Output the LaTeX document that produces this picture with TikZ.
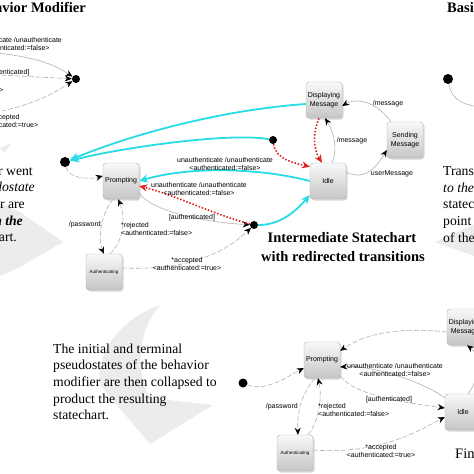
\documentclass[tikz,border=0pt]{standalone}
\usepackage{fontspec}
\setmainfont{Liberation Serif}
\setsansfont{Liberation Sans}
\usetikzlibrary{arrows.meta, shadows, positioning}
\definecolor{cyanline}{RGB}{40,220,230}
\definecolor{redline}{RGB}{225,30,30}

\begin{document}
\begin{tikzpicture}[x=1pt, y=-1pt,
    statebox/.style={draw=gray!60, rounded corners=3pt, minimum width=36pt, minimum height=36pt, inner sep=0pt, align=center, top color=gray!5, bottom color=gray!45, drop shadow={shadow xshift=1.5pt, shadow yshift=-1.5pt, fill=gray!60}, font=\sffamily\fontsize{7}{8.5}\selectfont},
    pseudo/.style={circle, fill=black, inner sep=0pt, minimum size=9pt},
    lbl/.style={font=\sffamily\fontsize{7}{8}\selectfont, inner sep=0pt, align=center},
    trans/.style={draw=gray!60, line width=0.6pt, -{Stealth[length=7pt, width=6pt, color=black]}},
    dtrans/.style={trans, dash pattern=on 5pt off 2pt},
    cyantrans/.style={draw=cyanline, line width=1.8pt, -{Stealth[length=9pt, width=8pt]}},
    redtrans/.style={draw=redline, line width=1.6pt, dash pattern=on 1.5pt off 1.8pt, -{Stealth[length=8pt, width=7pt]}},
    headline/.style={font=\bfseries\fontsize{14.5}{19}\selectfont, inner sep=0pt},
    prose/.style={font=\fontsize{13.7}{16.7}\selectfont, inner sep=0pt},
    bgarrow/.style={fill=gray!15}
]
    \useasboundingbox (0,0) rectangle (474,474);
    \fill[white] (0,0) rectangle (474,474);
    \clip (0,0) rectangle (474,474);

    % Background arrows
    \fill[bgarrow] (-10,200) -- (20,212) -- (63,242) -- (18,268) -- (-10,280) -- cycle;
    \fill[bgarrow] (0,148) -- (12,143) -- (4,153) -- cycle;
    \fill[bgarrow] (160,305) .. controls (118,320) and (95,355) .. (100,385) -- (150,444) -- (213,405) -- (150,398) .. controls (135,370) and (138,330) .. cycle;
    \fill[bgarrow] (435,242) -- (480,222) -- (480,258) -- cycle;

    % Titles
    \node[headline, anchor=base east] (tMod) at (86,12) {Behavior Modifier};
    \node[headline, anchor=base west] (tBasic) at (447,12) {Basic Statechart};
    \node[headline, anchor=base] (tInter1) at (342,242) {Intermediate Statechart};
    \node[headline, anchor=base] (tInter2) at (343,261) {with redirected transitions};
    \node[headline, anchor=base west, font=\fontsize{14.5}{19}\selectfont] (tFinal) at (455,458) {Final Statechart};

    % Texts
    \node[prose, anchor=base east] (left1) at (33,175) {behavior went};
    \node[prose, anchor=base east] (left2) at (35,191.5) {\itshape pseudostate};
    \node[prose, anchor=base east] (left3) at (25,208) {modifier are};
    \node[prose, anchor=base east] (left4) at (23,225) {\bfseries\itshape in the};
    \node[prose, anchor=base east] (left5) at (17,241.5) {statechart.};
    \foreach \txt [count=\i] in {The initial and terminal, pseudostates of the behavior, modifier are then collapsed to, product the resulting, statechart.}
        \node[prose, anchor=base west] (mid\i) at (53, {353+16.7*(\i-1)}) {\txt};
    \node[prose, anchor=base west] (right1) at (443,175.5) {Transitions};
    \node[prose, anchor=base west] (right2) at (443,192) {\itshape to the};
    \node[prose, anchor=base west] (right3) at (443,208.5) {statechart};
    \node[prose, anchor=base west] (right4) at (443,225) {point};
    \node[prose, anchor=base west] (right5) at (443,242) {of the};

    % Behavior modifier (top left)
    \node[pseudo, minimum size=8pt] (tB) at (76,79) {};
    \coordinate (mA) at (-40,50);
    \coordinate (mB) at (-20,74);
    \coordinate (mC) at (-40,118);
    \draw[trans] (mA) .. controls (35,54) and (55,65) .. (tB);
    \draw[dtrans] (mB) -- (tB);
    \draw[dtrans] (mC) .. controls (30,110) and (55,92) .. (tB);
    \node[lbl] (mL1) at (14,44) {unauthenticate /unauthenticate\\<authenticated:=false>};
    \node[lbl] (mL2) at (6.5,73) {[authenticated]};
    \node[lbl, anchor=west, align=left] (mL3) at (-68,86) {*rejected\\<authenticated:=false>};
    \node[lbl] (mL4) at (4,121) {*accepted\\<authenticated:=true>};

    % Basic statechart (top right)
    \node[pseudo, minimum size=10pt] (iB) at (448,79) {};
    \coordinate (bA) at (490,108);
    \draw[draw=gray!60, line width=0.6pt] (iB) .. controls (452,100) and (462,106) .. (bA);

    % Intermediate statechart
    \node[statebox] (prompt) at (121,181) {Prompting};
    \node[statebox, font=\sffamily\fontsize{4.5}{5}\selectfont] (auth) at (104,272) {Authenticating};
    \node[statebox] (idle) at (328,181) {Idle};
    \node[statebox] (disp) at (324,100) {Displaying\\Message};
    \node[statebox] (send) at (405,140) {Sending\\Message};
    \node[pseudo, minimum size=10pt] (iA) at (65,162) {};
    \node[pseudo, minimum size=8pt] (iM) at (273,140) {};
    \node[pseudo, minimum size=8pt] (tA) at (254,225) {};

    \draw[dtrans] (iA) .. controls (68,178) and (88,180) .. ([yshift=5pt]prompt.west);
    \draw[cyantrans] ([yshift=-4pt]disp.west) .. controls (220,110) and (130,135) .. (iA);
    \draw[cyantrans] (iM) .. controls (230,132) and (120,148) .. (iA);
    \draw[cyantrans] (idle.west) .. controls (260,168) and (190,166) .. (prompt.east);
    \draw[cyantrans] (tA) .. controls (280,225) and (295,212) .. ([yshift=4pt]idle.south west);
    \draw[redtrans] (iM) .. controls (276,160) and (295,163) .. ([yshift=-4pt]idle.north west);
    \draw[redtrans] ([xshift=-5pt]disp.south) .. controls (312,135) and (314,150) .. ([xshift=-6pt]idle.north);
    \draw[trans] ([xshift=4pt]idle.north) .. controls (338,150) and (334,132) .. ([xshift=1pt]disp.south);
    \draw[trans] ([xshift=-14pt]send.north) .. controls (375,100) and (355,98) .. ([yshift=-6pt]disp.east);
    \draw[trans] ([yshift=9pt]idle.east) .. controls (365,182) and (378,165) .. ([yshift=-10pt]send.west);
    \draw[dtrans] ([xshift=-8pt]prompt.south) .. controls (100,215) and (98,240) .. (auth.north);
    \draw[dtrans] ([xshift=6pt]auth.north) .. controls (125,240) and (125,215) .. ([xshift=-3pt]prompt.south);
    \draw[trans] ([yshift=-12pt]prompt.east) .. controls (150,210) and (200,222) .. (tA);
    \draw[redtrans] (tA) .. controls (215,215) and (175,195) .. ([yshift=-5pt]prompt.east);
    \draw[dtrans] ([yshift=4pt]auth.east) .. controls (170,270) and (215,262) .. (tA);

    \node[lbl] (lUnauthC) at (225,164) {unauthenticate /unauthenticate\\<authenticated:=false>};
    \node[lbl] (lUnauthR) at (199,189) {unauthenticate /unauthenticate\\<authenticated:=false>};
    \node[lbl] (lAuth) at (192,218) {[authenticated]};
    \node[lbl] (lAcc) at (187,264) {*accepted\\<authenticated:=true>};
    \node[lbl, anchor=east] (lPass) at (101,225) {/password};
    \node[lbl, anchor=west, align=left] (lRej) at (121,229) {*rejected\\<authenticated:=false>};
    \node[lbl] (lMsgA) at (352,141) {/message};
    \node[lbl] (lMsgB) at (388,104) {/message};
    \node[lbl] (lUser) at (392,174) {userMessage};

    % Final statechart
    \node[statebox] (fprompt) at (322,360) {Prompting};
    \node[statebox, font=\sffamily\fontsize{4.5}{5}\selectfont] (fauth) at (295,453) {Authenticating};
    \node[statebox] (fidle) at (463,412) {Idle};
    \node[statebox] (fdisp) at (465,327) {Displaying\\Message};
    \node[pseudo] (fi) at (243,383) {};

    \draw[dtrans] (fi) .. controls (265,392) and (285,378) .. ([yshift=-8pt]fprompt.west);
    \draw[dtrans] ([yshift=-5pt]fdisp.west) .. controls (410,328) and (370,330) .. ([yshift=-9pt]fprompt.north east);
    \draw[trans] ([yshift=-4pt]fidle.north west) .. controls (420,380) and (370,365) .. ([yshift=-7pt]fprompt.east);
    \draw[dtrans] ([yshift=-16pt]fprompt.east) .. controls (355,395) and (400,402) .. ([yshift=4pt]fidle.west);
    \draw[dtrans] ([yshift=3pt]fauth.east) .. controls (380,455) and (420,430) .. ([yshift=-5pt]fidle.west);
    \draw[dtrans] ([xshift=-7pt]fprompt.south) .. controls (300,395) and (297,415) .. ([xshift=3pt]fauth.north);
    \draw[dtrans] ([xshift=13pt]fauth.north) .. controls (320,420) and (322,395) .. ([xshift=-4pt]fprompt.south);
    \draw[trans] ([xshift=5pt]fidle.north) .. controls (482,375) and (480,355) .. ([xshift=2pt]fdisp.south);

    \node[lbl] (fUnauth) at (395,370) {unauthenticate /unauthenticate\\<authenticated:=false>};
    \node[lbl] (fAuth) at (389,400) {[authenticated]};
    \node[lbl] (fAcc) at (381,451) {*accepted\\<authenticated:=true>};
    \node[lbl, anchor=east] (fPass) at (298,407) {/password};
    \node[lbl, anchor=west, align=left] (fRej) at (318,410) {*rejected\\<authenticated:=false>};
\end{tikzpicture}
\end{document}
